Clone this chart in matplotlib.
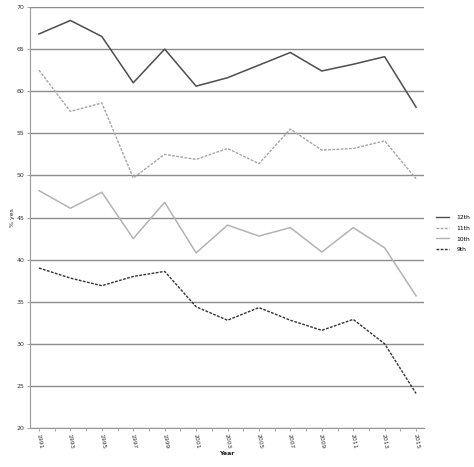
import matplotlib
matplotlib.use("Agg")
import matplotlib.pyplot as plt
from matplotlib.ticker import FixedLocator

years = ["1991", "1993", "1995", "1997", "1999", "2001", "2003", "2005",
         "2007", "2009", "2011", "2013", "2015"]
grade12 = [66.8, 68.4, 66.5, 61.0, 65.0, 60.6, 61.6, 63.1, 64.6, 62.4, 63.2, 64.1, 58.1]
grade11 = [62.5, 57.6, 58.6, 49.7, 52.5, 51.9, 53.2, 51.4, 55.5, 53.0, 53.2, 54.1, 49.6]
grade10 = [48.2, 46.1, 48.0, 42.5, 46.8, 40.8, 44.1, 42.8, 43.8, 40.9, 43.8, 41.4, 35.7]
grade9 = [39.0, 37.8, 36.9, 38.0, 38.6, 34.4, 32.8, 34.3, 32.8, 31.6, 32.9, 30.0, 24.1]

fig = plt.figure(figsize=(4.74, 4.67), dpi=100)
ax = fig.add_axes([0.063, 0.0835, 0.832, 0.9015])

x = list(range(len(years)))
ax.plot(x, grade12, color="#4d4d4d", lw=1.1, ls="-", label="12th")
ax.plot(x, grade11, color="#a6a6a6", lw=1.0, ls=(0, (2, 1)), label="11th")
ax.plot(x, grade10, color="#b3b3b3", lw=1.1, ls="-", label="10th")
ax.plot(x, grade9, color="#333333", lw=1.0, ls=(0, (2, 1)), label="9th")

ax.set_ylim(20, 70)
ax.set_xlim(-0.29, 12.26)
ax.set_yticks(range(20, 71, 5))
ax.yaxis.grid(True, color="#8c8c8c", lw=1.0)
ax.set_axisbelow(True)
ax.set_xticks(x)
ax.set_xticklabels(years, rotation=-80, fontsize=4.3, color="#333333")
ax.xaxis.set_minor_locator(FixedLocator([i + 0.5 for i in range(-1, 13)]))
ax.tick_params(axis="x", which="major", length=2, width=0.6, color="#999999", pad=2)
ax.tick_params(axis="x", which="minor", length=2, width=0.6, color="#999999")
ax.tick_params(axis="y", length=2, width=0.6, color="#999999", labelsize=4.5,
               labelcolor="#333333", pad=2)
for s in ["top", "right"]:
    ax.spines[s].set_visible(False)
for s in ["left", "bottom"]:
    ax.spines[s].set_color("#999999")
    ax.spines[s].set_linewidth(0.8)

ax.set_xlabel("Year", fontsize=4.5, fontweight="bold", color="#222222", labelpad=1)
ax.set_ylabel("% yes", fontsize=4.5, color="#222222", labelpad=1)

handles, labels = ax.get_legend_handles_labels()
leg = fig.legend(handles, labels, loc="center left", bbox_to_anchor=(0.915, 0.5),
                 frameon=False, fontsize=4.3, handlelength=2.2, labelspacing=0.95,
                 handletextpad=1.2, borderaxespad=0)
for h in leg.legend_handles:
    h.set_linewidth(1.0)

fig.savefig("out.png", dpi=100)
